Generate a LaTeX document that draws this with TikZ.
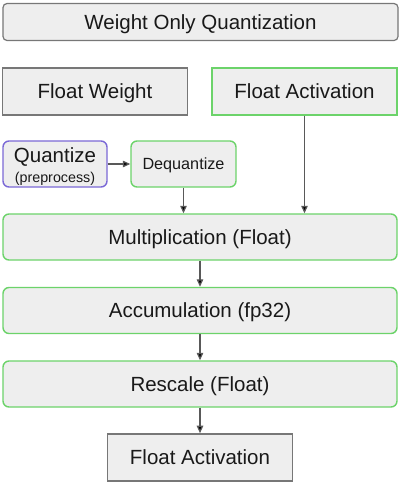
\documentclass[tikz,border=0pt]{standalone}
\usepackage{fontspec}
\setmainfont{Liberation Sans}
\usepackage{tikz}
\usetikzlibrary{positioning,arrows.meta}
\definecolor{boxfill}{HTML}{EEEEEE}
\definecolor{boxgray}{HTML}{777777}
\definecolor{actgreen}{HTML}{6CD36A}
\definecolor{prepurple}{HTML}{7B69D6}
\definecolor{arrowgray}{HTML}{595959}
\newcommand*{\bigtxt}{\fontsize{20.5}{24}\selectfont}
\newcommand*{\midtxt}{\fontsize{16.2}{19}\selectfont}
\newcommand*{\smalltxt}{\fontsize{14.3}{17}\selectfont}

\begin{document}
\begin{tikzpicture}[x=1pt,y=-1pt,node distance=73.5pt,on grid,auto,
    block/.style={draw=boxgray,fill=boxfill,text=black!90,inner sep=0pt,font=\bigtxt,text height=14.8pt,text depth=0pt},
    floatbox/.style={block,line width=1.6pt,minimum width=185pt,minimum height=47pt},
    stage/.style={block,draw=actgreen,line width=1.4pt,rounded corners=6pt,minimum height=46pt},
    >={Triangle[length=7.5pt,width=6.5pt]}]
    \useasboundingbox (0,0) rectangle (400,482);
    \node[block,line width=1.2pt,rounded corners=4pt,minimum width=395pt,minimum height=37pt] (title) at (200.5,22) {Weight Only Quantization};
    \node[floatbox] (weight) at (95,91.5) {Float Weight};
    \node[floatbox,draw=actgreen,line width=1.4pt] (act) [right=209.5pt of weight] {Float Activation};
    \node[stage,draw=prepurple,minimum width=104pt,text height=,text depth=] (quant) at (55,164)
      {\raisebox{-3.5pt}[\height][\depth]{\begin{tabular}{@{}c@{}}Quantize\\[-4pt]\smalltxt(preprocess)\end{tabular}}};
    \node[stage,minimum width=105pt,font=\midtxt,text height=11.7pt] (dequant) [right=128.5pt of quant] {Dequantize};
    \node[stage,minimum width=394pt] (mult) at (200,237) {Multiplication (Float)};
    \node[stage,minimum width=394pt] (accum) [below=of mult] {Accumulation (fp32)};
    \node[stage,minimum width=394pt] (rescale) [below=of accum] {Rescale (Float)};
    \node[floatbox] (out) [below=of rescale] {Float Activation};
    \path[->,draw=arrowgray,line width=1.2pt]
    (quant) edge (dequant)
    (dequant) edge (dequant |- mult.north)
    (act) edge (act |- mult.north)
    (mult) edge (accum)
    (accum) edge (rescale)
    (rescale) edge (out)
    ;
\end{tikzpicture}
\end{document}
